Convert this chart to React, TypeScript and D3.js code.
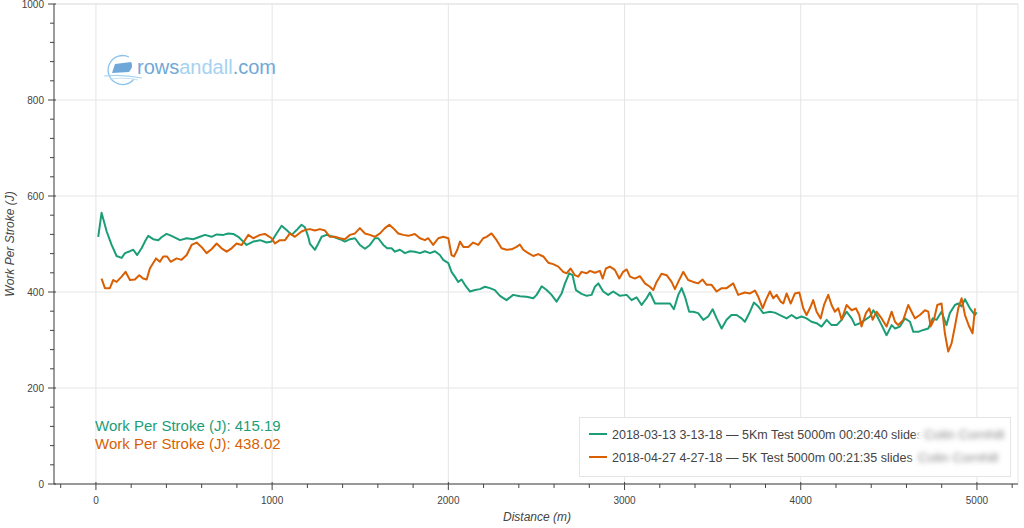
import React from 'react';
import * as d3 from 'd3';

// work per stroke vs distance
const greenSeries: [number, number][] = [
  [13, 515], [32, 565], [61, 526], [89, 498], [117, 475], [146, 471], [165, 481], [193, 485], [212, 488],
  [234, 477], [259, 491], [278, 505], [297, 517], [325, 510], [354, 508], [372, 514], [401, 521], [429, 517],
  [477, 508], [515, 512], [552, 510], [590, 515], [619, 519], [656, 515], [685, 520], [723, 519], [751, 522],
  [779, 521], [808, 515], [836, 505], [855, 498], [893, 505], [931, 508], [969, 503], [997, 505], [1025, 522],
  [1054, 538], [1082, 529], [1111, 519], [1139, 529], [1167, 540], [1186, 535], [1205, 515], [1214, 501],
  [1243, 488], [1262, 501], [1281, 515], [1309, 519], [1347, 515], [1385, 510], [1413, 505], [1442, 510],
  [1470, 512], [1498, 498], [1527, 490], [1555, 498], [1583, 512], [1602, 512], [1631, 498], [1653, 491],
  [1678, 491], [1697, 484], [1725, 488], [1754, 481], [1782, 485], [1810, 484], [1839, 481], [1867, 485],
  [1896, 481], [1924, 485], [1952, 477], [1971, 467], [2000, 460], [2018, 442], [2037, 432], [2056, 421],
  [2075, 426], [2094, 415], [2123, 401], [2151, 404], [2179, 406], [2208, 411], [2236, 408], [2264, 404],
  [2293, 392], [2330, 383], [2368, 394], [2406, 391], [2444, 390], [2482, 387], [2501, 394], [2530, 412],
  [2558, 404], [2586, 394], [2614, 380], [2643, 397], [2662, 418], [2686, 439], [2705, 435], [2724, 404],
  [2756, 396], [2785, 392], [2813, 394], [2832, 411], [2851, 418], [2879, 401], [2907, 394], [2936, 401],
  [2974, 392], [3012, 394], [3040, 383], [3068, 389], [3097, 373], [3125, 387], [3144, 399], [3173, 376],
  [3201, 376], [3229, 376], [3258, 376], [3280, 364], [3305, 394], [3324, 408], [3343, 390], [3367, 359],
  [3390, 359], [3418, 356], [3447, 342], [3475, 349], [3500, 364], [3523, 345], [3551, 324], [3579, 342],
  [3607, 352], [3636, 352], [3664, 345], [3683, 338], [3712, 359], [3734, 378], [3759, 370], [3787, 356],
  [3825, 359], [3853, 357], [3882, 352], [3920, 345], [3948, 352], [3976, 345], [4005, 349], [4033, 345],
  [4061, 338], [4090, 335], [4118, 328], [4147, 342], [4175, 331], [4204, 331], [4232, 342], [4260, 359],
  [4289, 345], [4308, 331], [4336, 335], [4365, 342], [4393, 349], [4412, 362], [4430, 352], [4459, 331],
  [4487, 310], [4516, 331], [4535, 324], [4563, 328], [4591, 345], [4620, 338], [4639, 317], [4667, 317],
  [4696, 321], [4724, 324], [4749, 345], [4771, 342], [4799, 359], [4827, 331], [4846, 356], [4875, 373],
  [4894, 376], [4913, 370], [4932, 385], [4960, 366], [4989, 352], [4998, 358],
];

const orangeSeries: [number, number][] = [
  [32, 428], [51, 408], [79, 408], [98, 425], [117, 421], [146, 432], [168, 442], [193, 425], [221, 426],
  [246, 435], [268, 428], [288, 426], [306, 449], [341, 470], [363, 463], [382, 474], [404, 474], [424, 463],
  [458, 470], [486, 467], [515, 477], [543, 498], [571, 503], [599, 494], [628, 481], [656, 489], [685, 501],
  [713, 491], [742, 484], [770, 491], [798, 501], [827, 498], [865, 519], [893, 512], [931, 519], [959, 521],
  [997, 512], [1016, 501], [1044, 508], [1073, 508], [1101, 522], [1129, 515], [1167, 526], [1186, 529],
  [1214, 531], [1243, 528], [1271, 531], [1300, 528], [1328, 515], [1356, 515], [1385, 512], [1413, 510],
  [1442, 519], [1470, 522], [1498, 533], [1527, 522], [1555, 519], [1583, 515], [1612, 522], [1640, 533],
  [1665, 540], [1687, 533], [1716, 522], [1744, 519], [1773, 517], [1810, 521], [1839, 512], [1867, 508],
  [1886, 512], [1914, 498], [1943, 512], [1971, 515], [2000, 512], [2018, 477], [2032, 474], [2051, 488],
  [2066, 505], [2085, 494], [2113, 494], [2141, 503], [2170, 498], [2198, 512], [2217, 515], [2245, 522],
  [2274, 508], [2302, 491], [2330, 488], [2359, 489], [2387, 494], [2406, 499], [2425, 488], [2454, 481],
  [2482, 475], [2510, 479], [2539, 474], [2567, 461], [2595, 458], [2624, 453], [2652, 442], [2671, 439],
  [2694, 449], [2718, 435], [2737, 432], [2756, 442], [2785, 439], [2804, 444], [2832, 440], [2860, 444],
  [2876, 428], [2894, 449], [2917, 453], [2945, 446], [2970, 428], [2992, 442], [3012, 447], [3031, 432],
  [3059, 428], [3087, 433], [3116, 418], [3144, 411], [3163, 404], [3182, 421], [3210, 438], [3239, 435],
  [3267, 421], [3286, 406], [3305, 421], [3333, 442], [3361, 425], [3390, 421], [3418, 418], [3443, 426],
  [3466, 415], [3494, 415], [3523, 401], [3551, 408], [3579, 408], [3617, 418], [3645, 394], [3683, 399],
  [3712, 397], [3740, 403], [3759, 390], [3784, 366], [3802, 383], [3825, 401], [3844, 387], [3863, 394],
  [3886, 380], [3901, 376], [3920, 397], [3943, 376], [3967, 397], [3992, 399], [4014, 366], [4033, 352],
  [4052, 366], [4071, 383], [4090, 359], [4113, 345], [4132, 373], [4156, 394], [4175, 373], [4194, 359],
  [4213, 366], [4232, 342], [4260, 373], [4289, 362], [4313, 366], [4332, 352], [4345, 328], [4370, 356],
  [4389, 366], [4408, 342], [4430, 359], [4459, 345], [4487, 328], [4516, 359], [4535, 338], [4553, 331],
  [4582, 342], [4610, 373], [4629, 359], [4648, 345], [4676, 352], [4705, 362], [4724, 359], [4737, 328],
  [4756, 342], [4775, 373], [4799, 376], [4818, 314], [4837, 276], [4856, 293], [4875, 328], [4894, 366],
  [4913, 387], [4932, 352], [4956, 328], [4975, 314], [4989, 366],
];

const xTicks = [0, 1000, 2000, 3000, 4000, 5000];
const yTicks = [0, 200, 400, 600, 800, 1000];
const seriesColors = ['#1b9e77', '#d95f02'];
const legendLabels = [
  '2018-03-13 3-13-18 \u2014 5Km Test 5000m 00:20:40 slides',
  '2018-04-27 4-27-18 \u2014 5K Test 5000m 00:21:35 slides',
];
const averages = ['415.19', '438.02'];
const hiddenName = 'Colin Cornhill';

const font = '"Liberation Sans", Arial, Helvetica, sans-serif';

export default function App() {
  const left = 54, right = 1018, top = 4, bottom = 484;
  const x = d3.scaleLinear().domain([-238, 5233]).range([left, right]);
  const y = d3.scaleLinear().domain([0, 1000]).range([bottom, top]);

  const line = d3.line<[number, number]>()
    .x(d => x(d[0]))
    .y(d => y(d[1]));

  const xMinor = d3.range(-200, 5233, 200).filter(v => !xTicks.includes(v));
  const yMinor = d3.range(0, 1001, 40).filter(v => !yTicks.includes(v));

  return (
    <div style={{ position: 'absolute', left: 0, top: 0 }}>
      <svg width={1024} height={528} style={{ display: 'block', background: '#fff' }}>
        <defs>
          <filter id="blur" x="-20%" y="-60%" width="140%" height="220%">
            <feGaussianBlur stdDeviation="2.6" />
          </filter>
        </defs>

        {/* grid */}
        <rect x={left} y={top} width={right - left} height={bottom - top} fill="none" stroke="#e5e5e5" />
        {xTicks.map(t => (
          <line key={'gx' + t} x1={x(t)} x2={x(t)} y1={top} y2={bottom} stroke="#e5e5e5" />
        ))}
        {yTicks.map(t => (
          <line key={'gy' + t} x1={left} x2={right} y1={y(t)} y2={y(t)} stroke="#e5e5e5" />
        ))}

        {/* logo */}
        <g>
          <path d="M129,57 A14.5,14.5 0 1 0 134,79" fill="none" stroke="#8cc3ea" strokeWidth={1.3} />
          <path d="M112,73 L115,64 L131,62 Q134,66 129,72 Z" fill="#6fa8d8" />
          <path d="M104,76 Q122,74 142,78" fill="none" stroke="#a9d4f2" strokeWidth={1.1} />
          <path d="M110,79 Q126,77 138,80" fill="none" stroke="#c6e3f6" strokeWidth={1} />
          <text x={137} y={74} fontFamily={font} fontSize={20} fill="#6fa8d8">
            rows<tspan fill="#a6d2f0">andall</tspan>.com
          </text>
        </g>

        {/* series */}
        <path d={line(greenSeries) || ''} fill="none" stroke={seriesColors[0]} strokeWidth={2} strokeLinejoin="round" />
        <path d={line(orangeSeries) || ''} fill="none" stroke={seriesColors[1]} strokeWidth={2} strokeLinejoin="round" />

        {/* axes */}
        <line x1={left} x2={left} y1={top} y2={bottom} stroke="#444" />
        <line x1={left} x2={right} y1={bottom} y2={bottom} stroke="#444" />
        {yTicks.map(t => (
          <g key={'yt' + t}>
            <line x1={left - 6} x2={left + 2} y1={y(t)} y2={y(t)} stroke="#444" />
            <text x={left - 10} y={y(t) + 3.5} textAnchor="end" fontFamily={font} fontSize={10} fill="#444">{t}</text>
          </g>
        ))}
        {yMinor.map(t => (
          <line key={'ym' + t} x1={left - 4} x2={left} y1={y(t)} y2={y(t)} stroke="#444" />
        ))}
        {xTicks.map(t => (
          <g key={'xt' + t}>
            <line x1={x(t)} x2={x(t)} y1={bottom - 2} y2={bottom + 6} stroke="#444" />
            <text x={x(t)} y={bottom + 20} textAnchor="middle" fontFamily={font} fontSize={10} fill="#444">{t}</text>
          </g>
        ))}
        {xMinor.map(t => (
          <line key={'xm' + t} x1={x(t)} x2={x(t)} y1={bottom} y2={bottom + 4} stroke="#444" />
        ))}
        <text x={537} y={521} textAnchor="middle" fontFamily={font} fontSize={12} fontStyle="italic" fill="#444">Distance (m)</text>
        <text transform={`translate(14,${(top + bottom) / 2}) rotate(-90)`} textAnchor="middle" fontFamily={font} fontSize={12} fontStyle="italic" fill="#444">Work Per Stroke (J)</text>

        {/* averages */}
        {averages.map((a, i) => (
          <text key={'av' + i} x={95} y={431 + i * 18} fontFamily={font} fontSize={15} fill={seriesColors[i]}>
            Work Per Stroke (J): {a}
          </text>
        ))}

        {/* legend */}
        <rect x={579.5} y={417.5} width={431} height={59} fill="#fff" fillOpacity={0.95} stroke="#e5e5e5" />
        {legendLabels.map((l, i) => (
          <g key={'lg' + i}>
            <line x1={589} x2={607} y1={434 + i * 23} y2={434 + i * 23} stroke={seriesColors[i]} strokeWidth={2} />
            <text x={612} y={438.5 + i * 23} fontFamily={font} fontSize={12.5} fill="#444">{l}</text>
          </g>
        ))}
        <rect x={917} y={424} width={88} height={20} fill="#fff" filter="url(#blur)" />
        <rect x={913} y={447} width={82} height={20} fill="#fff" filter="url(#blur)" />
        {legendLabels.map((l, i) => (
          <text key={'hn' + i} x={i === 0 ? 924 : 918} y={439 + i * 23} fontFamily={font} fontSize={13.5}
            fill="#8a8a8a" filter="url(#blur)">{hiddenName}</text>
        ))}
      </svg>
    </div>
  );
}
